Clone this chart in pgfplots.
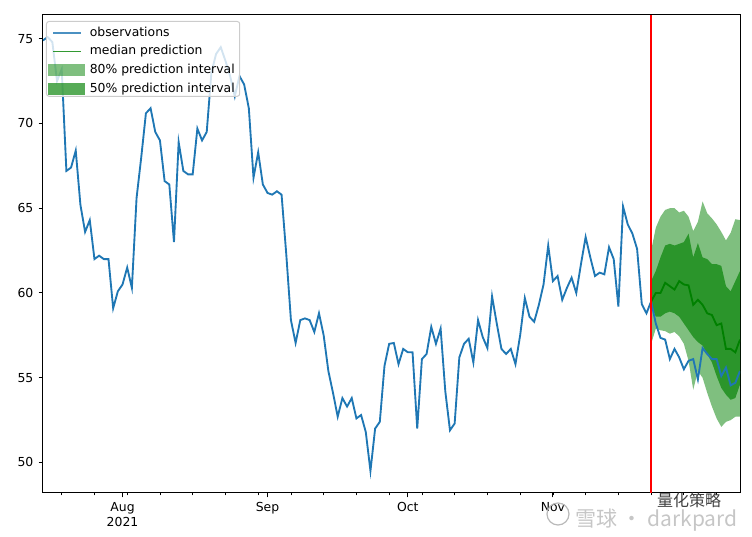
\documentclass[border=0pt]{standalone}
\usepackage{fontspec}
\setmainfont{DejaVu Sans}
\newfontfamily\cjk{Noto Sans CJK SC}
\usepackage{pgfplots}
\pgfplotsset{compat=1.18}
\usepackage{pgfplotstable}
\usepgfplotslibrary{fillbetween}

\definecolor{obsblue}{HTML}{1F77B4}
\definecolor{medgreen}{HTML}{008000}
\definecolor{legedge}{rgb}{0.8,0.8,0.8}

% observations, days counted from 2021-08-01
\pgfplotstableread{
day val
-17 74.9
-16 75.1
-15 74.8
-14 72.5
-13 73.2
-12 67.2
-11 67.4
-10 68.4
-9 65.2
-8 63.6
-7 64.3
-6 62.0
-5 62.2
-4 62.0
-3 62.0
-2 59.1
-1 60.1
0 60.5
1 61.5
2 60.3
3 65.6
4 68.0
5 70.6
6 70.9
7 69.5
8 69.0
9 66.6
10 66.4
11 63.0
12 68.9
13 67.2
14 67.0
15 67.0
16 69.7
17 69.0
18 69.5
19 73.0
20 74.1
21 74.5
22 73.7
23 72.8
24 71.6
25 72.8
26 72.3
27 70.9
28 66.8
29 68.3
30 66.4
31 65.9
32 65.8
33 66.0
34 65.8
35 62.3
36 58.4
37 57.05
38 58.4
39 58.5
40 58.4
41 57.7
42 58.8
43 57.5
44 55.4
45 54.1
46 52.7
47 53.8
48 53.3
49 53.8
50 52.6
51 52.8
52 51.8
53 49.5
54 52.0
55 52.4
56 55.7
57 57.0
58 57.05
59 55.8
60 56.7
61 56.5
62 56.5
63 52.0
64 56.1
65 56.4
66 58.0
67 57.0
68 57.9
69 54.2
70 51.9
71 52.3
72 56.2
73 57.0
74 57.3
75 55.9
76 58.4
77 57.4
78 56.75
79 59.8
80 58.2
81 56.7
82 56.4
83 56.7
84 55.8
85 57.5
86 59.7
87 58.6
88 58.3
89 59.3
90 60.5
91 62.8
92 60.7
93 61.0
94 59.6
95 60.3
96 60.9
97 60.0
98 61.7
99 63.3
100 62.1
101 61.0
102 61.2
103 61.1
104 62.7
105 62.0
106 59.2
107 65.1
108 64.05
109 63.5
110 62.6
111 59.35
112 58.8
113 59.5
114 58.2
115 57.35
116 57.25
117 56.1
118 56.7
119 56.2
120 55.5
121 56.0
122 56.1
123 54.9
124 56.75
125 56.4
126 56.1
127 56.1
128 55.1
129 55.6
130 54.55
131 54.7
132 55.4
}\obs

% forecast: median and interval bounds
\pgfplotstableread{
day med lo80 hi80 lo50 hi50
113 59.5 57.0 62.5 59.3 60.7
114 60.0 57.9 63.85 58.6 61.3
115 60.0 57.8 64.5 58.6 62.1
116 60.6 57.75 64.9 58.8 62.8
117 60.4 57.6 65.0 58.9 62.9
118 60.2 57.7 65.0 58.8 62.8
119 60.7 57.45 64.75 58.6 62.9
120 60.5 57.0 64.85 58.2 63.0
121 60.45 56.0 64.5 57.8 63.5
122 59.3 54.3 63.65 57.4 62.1
123 59.6 55.4 64.2 57.1 62.95
124 59.3 55.0 65.4 56.9 62.1
125 58.8 54.1 64.7 56.4 62.0
126 58.7 53.3 64.4 55.9 61.7
127 58.1 52.6 64.05 55.1 61.7
128 58.2 52.1 63.6 54.4 61.6
129 56.7 52.4 63.1 54.0 60.4
130 56.7 52.5 63.55 53.7 60.1
131 56.5 52.7 64.35 53.8 60.7
132 57.25 52.7 64.3 54.6 61.3
}\fc

% legend images
\pgfplotsset{
  obsleg/.style={legend image code/.code={
    \path[draw=none,fill=none] (-1.7pt,-7.4pt) rectangle (36.6pt,11.3pt);
    \fill[fill=obsblue,draw=none,sharp corners] (0pt,-0.93pt) rectangle (27.3pt,0.93pt);}},
  medleg/.style={legend image code/.code={
    \path[draw=none,fill=none] (-1.7pt,-7.4pt) rectangle (36.6pt,11.3pt);
    \fill[fill=medgreen,draw=none,sharp corners] (0pt,-0.93pt) rectangle (27.3pt,0.93pt);}},
  leg80/.style={legend image code/.code={
    \path[draw=none,fill=none] (-1.7pt,-7.4pt) rectangle (36.6pt,11.3pt);
    \fill[fill=medgreen,fill opacity=0.5,draw=none,sharp corners,overlay] (-5.4pt,-6.3pt) rectangle (31.6pt,6.3pt);}},
  leg50/.style={legend image code/.code={
    \path[draw=none,fill=none] (-1.7pt,-7.4pt) rectangle (36.6pt,11.3pt);
    \fill[fill=medgreen,fill opacity=0.66,draw=none,sharp corners,overlay] (-5.4pt,-6.3pt) rectangle (31.6pt,6.3pt);}},
}

\begin{document}
\begin{tikzpicture}
\begin{axis}[
  name=ax, at={(0,0)}, anchor=south west,
  width=697pt, height=478pt, scale only axis,
  xmin=-17, xmax=132, ymin=48.2, ymax=76.4,
  axis line style={line width=1pt},
  tick style={black, line width=1pt},
  minor tick style={line width=0.75pt},
  tick align=outside, tick pos=left,
  major tick length=4.3pt, minor tick length=2.5pt,
  xtick={0,31,61,92},
  xticklabels={{Aug\\2021},Sep,Oct,Nov},
  minor xtick={-13,-6,...,127},
  ytick={50,55,...,75},
  /pgf/number format/assume math mode=true,
  tick label style={font=\fontsize{12.4}{15.5}\selectfont},
  xticklabel style={align=center, anchor=north, inner sep=0pt, yshift=-4.6pt},
  yticklabel style={anchor=east, inner sep=0pt, xshift=-5.2pt},
  legend style={
    at={(0,1)}, anchor=north west, xshift=3pt, yshift=-6pt,
    draw=legedge, line width=1pt, rounded corners=2.5pt,
    fill=white, fill opacity=0.8, text opacity=1,
    font=\fontsize{12.4}{15}\selectfont,
    inner xsep=5pt, inner ysep=0pt, row sep=0pt,
    nodes={inner sep=0pt, text height=9.2pt, text depth=2.4pt},
  },
  legend cell align=left,
]
% prediction intervals
\addplot[name path=hi80, draw=none, forget plot] table[x=day, y=hi80] {\fc};
\addplot[name path=lo80, draw=none, forget plot] table[x=day, y=lo80] {\fc};
\addplot[name path=hi50, draw=none, forget plot] table[x=day, y=hi50] {\fc};
\addplot[name path=lo50, draw=none, forget plot] table[x=day, y=lo50] {\fc};
\addplot[fill=medgreen, fill opacity=0.5, draw=none, forget plot] fill between[of=hi80 and lo80];
\addplot[fill=medgreen, fill opacity=0.66, draw=none, forget plot] fill between[of=hi50 and lo50];

% observations and median
\addplot[obsblue, line width=1.86pt, forget plot] table[x=day, y=val] {\obs};
\addplot[medgreen, line width=1.86pt, forget plot] table[x=day, y=med] {\fc};

% forecast start
\addplot[red, line width=1.86pt, forget plot] coordinates {(113,48.2) (113,76.4)};

\addlegendimage{obsleg}
\addlegendentry{observations}
\addlegendimage{medleg}
\addlegendentry{median prediction}
\addlegendimage{leg80}
\addlegendentry{80\% prediction interval}
\addlegendimage{leg50}
\addlegendentry{50\% prediction interval}
\end{axis}

% watermark
\draw[gray!55, line width=1.2pt] (515pt,-21pt) circle (11pt);
\node[anchor=west, text=gray!45, font=\cjk\fontsize{21}{21}\selectfont, inner sep=0pt] at (532pt,-27pt) {雪球 · darkpard};
\node[text=black!75, font=\cjk\fontsize{16}{16}\selectfont, inner sep=0pt] at (646pt,-7pt) {量化策略};

\pgfresetboundingbox
\path[use as bounding box] (-43pt,-44pt) rectangle (709pt,493pt);
\end{tikzpicture}
\end{document}
